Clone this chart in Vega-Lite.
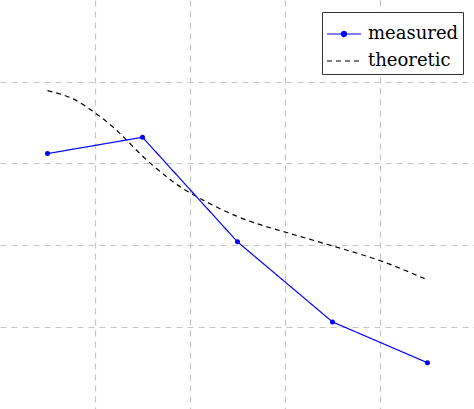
{
  "$schema": "https://vega.github.io/schema/vega-lite/v6.json",
  "width": 474,
  "height": 409,
  "autosize": {"type": "fit", "contains": "padding"},
  "padding": 0,
  "background": "white",
  "config": {
    "view": {"stroke": null},
    "axis": {
      "grid": true,
      "gridColor": "#c4c4c4",
      "gridWidth": 1.2,
      "gridDash": [6, 5],
      "labels": false,
      "ticks": false,
      "domain": false,
      "title": null
    },
    "legend": {
      "orient": "none",
      "legendX": 322,
      "legendY": 12,
      "title": null,
      "padding": 4,
      "strokeColor": "#333333",
      "strokeWidth": 1,
      "fillColor": "white",
      "labelFont": "DejaVu Serif",
      "labelFontSize": 18,
      "labelColor": "black",
      "labelOffset": 6,
      "rowPadding": -3,
      "symbolSize": 1156,
      "symbolStrokeWidth": 1.2
    }
  },
  "data": {
    "values": [
      {"series": "measured", "x": 0.5, "y": 3.12},
      {"series": "measured", "x": 1.5, "y": 3.32},
      {"series": "measured", "x": 2.5, "y": 2.04},
      {"series": "measured", "x": 3.5, "y": 1.06},
      {"series": "measured", "x": 4.5, "y": 0.56},
      {"series": "theoretic", "x": 0.5, "y": 3.89},
      {"series": "theoretic", "x": 0.75, "y": 3.8},
      {"series": "theoretic", "x": 1.0, "y": 3.62},
      {"series": "theoretic", "x": 1.25, "y": 3.38},
      {"series": "theoretic", "x": 1.5, "y": 3.09},
      {"series": "theoretic", "x": 1.75, "y": 2.84},
      {"series": "theoretic", "x": 2.0, "y": 2.64},
      {"series": "theoretic", "x": 2.5, "y": 2.35},
      {"series": "theoretic", "x": 3.0, "y": 2.16},
      {"series": "theoretic", "x": 3.5, "y": 1.99},
      {"series": "theoretic", "x": 4.0, "y": 1.81},
      {"series": "theoretic", "x": 4.47, "y": 1.59}
    ]
  },
  "encoding": {
    "x": {
      "field": "x",
      "type": "quantitative",
      "scale": {"domain": [0, 4.99], "nice": false, "zero": false},
      "axis": {"values": [1, 2, 3, 4]}
    },
    "y": {
      "field": "y",
      "type": "quantitative",
      "scale": {"domain": [-0.006, 5.0], "nice": false, "zero": false},
      "axis": {"values": [0, 1, 2, 3, 4]}
    },
    "color": {
      "field": "series",
      "type": "nominal",
      "scale": {"domain": ["measured", "theoretic"], "range": ["#0000ff", "#000000"]},
      "legend": {
        "encode": {
          "symbols": {
            "update": {
              "shape": {"signal": "datum.value == 'measured' ? 'M-1,0H1M-0.15,0A0.15,0.15,0,1,0,0.15,0A0.15,0.15,0,1,0,-0.15,0Z' : 'M-1,0H1'"},
              "fill": {"signal": "datum.value == 'measured' ? '#0000ff' : 'transparent'"}
            }
          }
        }
      }
    },
    "strokeDash": {
      "field": "series",
      "type": "nominal",
      "scale": {"domain": ["measured", "theoretic"], "range": [[1, 0], [5, 4]]}
    }
  },
  "layer": [
    {
      "transform": [{"filter": "datum.series == 'theoretic'"}],
      "mark": {"type": "line", "interpolate": "natural", "strokeWidth": 1.2}
    },
    {
      "transform": [{"filter": "datum.series == 'measured'"}],
      "mark": {"type": "line", "strokeWidth": 1.2, "point": {"filled": true, "size": 25}}
    }
  ]
}
